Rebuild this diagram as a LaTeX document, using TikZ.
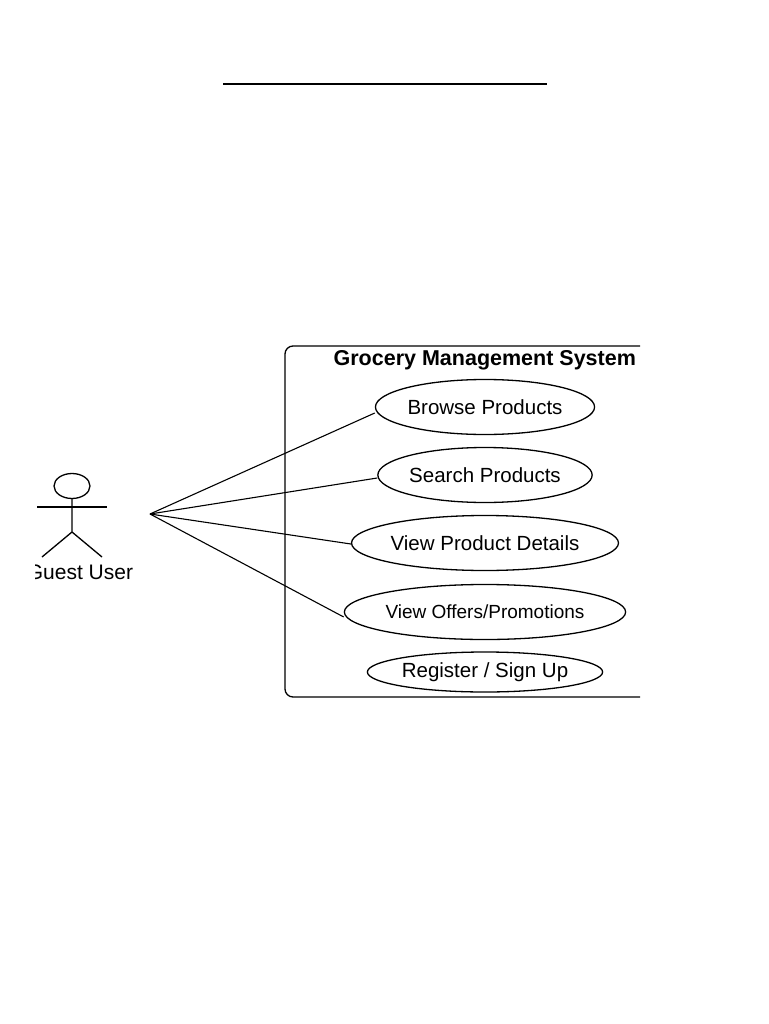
\documentclass[tikz,border=0pt]{standalone}
\usepackage{fontspec}
\setmainfont{Liberation Sans}
\usetikzlibrary{shapes.geometric}
\begin{document}
\begin{tikzpicture}[x=1pt,y=-1pt,line width=1.3pt,
  uc/.style={draw,ellipse,minimum width=207pt,minimum height=55pt,inner sep=0pt,font=\fontsize{20.5}{22}\selectfont}]
\useasboundingbox (0,0) rectangle (768,1024);
\draw (223,84) -- (547,84);
\draw[rounded corners=8pt] (640,346) -- (285,346) -- (285,697) -- (640,697);
\begin{scope}
\clip (285,340) rectangle (639,380);
\node[font=\bfseries\fontsize{21.5}{23}\selectfont,anchor=west,inner sep=0pt] (t) at (333,360) {Grocery Management System};
\end{scope}
\node[uc] (b) at (485,407) {Browse Products};
\node[uc] (s) at (485,475) {Search Products};
\node[uc] (d) at (485,543) {View Product Details};
\node[uc,font=\fontsize{19}{21}\selectfont] (o) at (485,612) {View Offers/Promotions};
\node[uc,minimum height=40pt] (r) at (485,672) {Register / Sign Up};
% actor
\draw (72,486) ellipse [x radius=18,y radius=12.5];
\draw (37,507) -- (107,507);
\draw (72,498.5) -- (72,532) -- (42,557);
\draw (72,532) -- (102,557);
\begin{scope}
\clip (35,555) rectangle (200,590);
\node[font=\fontsize{21}{23}\selectfont] (g) at (80,572) {Guest User};
\end{scope}
\coordinate (a) at (150,514);
\draw[line width=1.1pt] (a) -- ([yshift=-6pt]b.west);
\draw[line width=1.1pt] (a) -- ([yshift=-3pt]s.west);
\draw[line width=1.1pt] (a) -- ([yshift=-1pt]d.west);
\draw[line width=1.1pt] (a) -- ([yshift=-5pt]o.west);
\end{tikzpicture}
\end{document}
